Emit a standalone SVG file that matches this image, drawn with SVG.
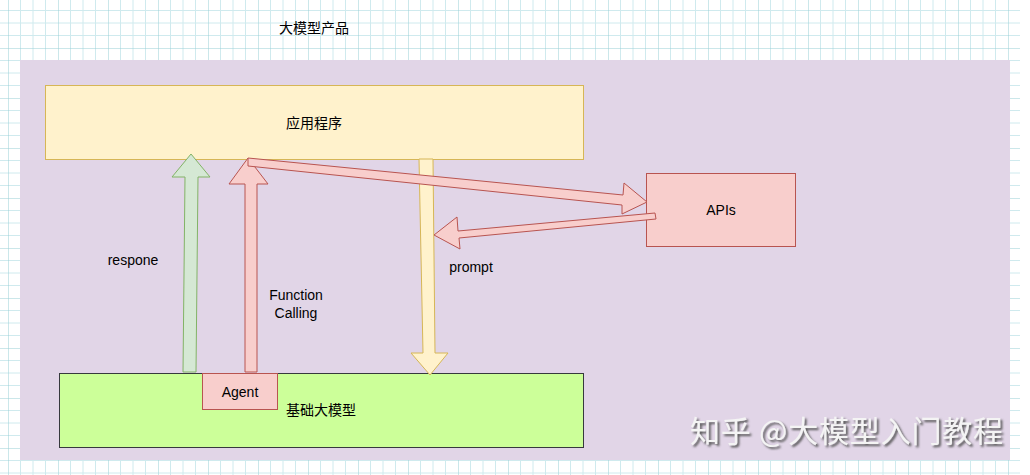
<svg xmlns="http://www.w3.org/2000/svg" width="1030" height="475" viewBox="0 0 1030 475">
  <defs>
    <!-- drawing-paper grid: minor every 12.5px, major every 50px -->
    <pattern id="grid" x="8" y="-2" width="50" height="50" patternUnits="userSpaceOnUse">
      <path d="M12.5 0V50M25 0V50M37.5 0V50M0 12.5H50M0 25H50M0 37.5H50" stroke="#cfeaee" stroke-width="1" fill="none"/>
      <path d="M0 0V50M0 0H50" stroke="#98cfd6" stroke-width="1" fill="none"/>
    </pattern>
    <!-- soft drop shadow for the watermark lettering -->
    <filter id="shadow" x="-5%" y="-30%" width="110%" height="160%">
      <feGaussianBlur in="SourceAlpha" stdDeviation="0.9" result="blur"/>
      <feOffset in="blur" dx="1.5" dy="1.5" result="off"/>
      <feFlood flood-color="#555555"/>
      <feComposite in2="off" operator="in" result="shade"/>
      <feMerge>
        <feMergeNode in="shade"/>
        <feMergeNode in="SourceGraphic"/>
      </feMerge>
    </filter>
  </defs>
  <style>
    .lbl { font-family: "Liberation Sans", Arial, "Noto Sans CJK SC", sans-serif; font-size: 14px; fill: #000; text-anchor: middle; }
    .cjk { font-family: "Noto Sans CJK SC", "Liberation Sans", sans-serif; font-size: 14px; fill: #000; text-anchor: middle; }
    .red { fill: #f8cecc; stroke: #b85450; stroke-width: 1; }
    .yellow { fill: #fff2cc; stroke: #d6b656; stroke-width: 1; }
    .green { fill: #d5e8d4; stroke: #82b366; stroke-width: 1; }
    .wm { font-family: "Noto Sans CJK SC", sans-serif; font-size: 30px; fill: #f4f4f4; }
  </style>

  <!-- background -->
  <rect x="0" y="0" width="1030" height="475" fill="#ffffff"/>
  <rect x="0" y="0" width="1020" height="475" fill="url(#grid)"/>
  <rect x="1020" y="0" width="10" height="475" fill="#ffffff" opacity="0.7"/>

  <!-- title -->
  <text class="cjk" x="314" y="33">大模型产品</text>

  <!-- product container -->
  <g id="container">
    <rect x="20" y="60" width="990" height="400" fill="#e1d5e7"/>
  </g>

  <g id="app">
    <rect class="yellow" x="45.5" y="85.5" width="538" height="74"/>
    <text class="cjk" x="314" y="128">应用程序</text>
  </g>

  <g id="model">
    <rect x="59.5" y="373.5" width="524" height="74" fill="#ccff99" stroke="#36393d" stroke-width="1"/>
    <text class="cjk" x="321" y="415">基础大模型</text>
  </g>

  <g id="agent">
    <rect class="red" x="202.5" y="373.5" width="75" height="36"/>
    <text class="lbl" x="240" y="397">Agent</text>
  </g>

  <g id="apis">
    <rect class="red" x="646.5" y="173.5" width="149" height="73"/>
    <text class="lbl" x="721" y="215">APIs</text>
  </g>

  <!-- connectors: block arrows -->
  <g id="connectors">
    <!-- respone: model -> app -->
    <path class="green" d="M183 372 L185 177 L172 177 L191 154 L210 177 L198 177 L196 372 Z"/>
    <!-- prompt: app -> model -->
    <path class="yellow" d="M419 159 L433 159 L435 353 L448 353 L430 375 L411 353 L423 353 Z"/>
    <!-- Function Calling: agent -> app -->
    <path class="red" d="M245 372 L245 184 L229 184 L248 158 L268 184 L257 184 L257 372 Z"/>
    <!-- call out to APIs -->
    <path class="red" d="M248 158 L623 195 L624 183 L647 202 L622 214 L622 205 L248 166 Z"/>
    <!-- result back from APIs -->
    <path class="red" d="M655 213 L656 219 L459 238 L460 249 L434 235 L457 217 L458 231 Z"/>
  </g>

  <!-- connector labels -->
  <text class="lbl" x="133" y="265">respone</text>
  <text class="lbl" x="296" y="300">Function</text>
  <text class="lbl" x="296" y="318">Calling</text>
  <text class="lbl" x="471" y="272">prompt</text>

  <!-- watermark -->
  <g id="watermark">
    <text class="wm" x="690" y="442" textLength="313" lengthAdjust="spacing" filter="url(#shadow)">知乎 @大模型入门教程</text>
  </g>
</svg>
